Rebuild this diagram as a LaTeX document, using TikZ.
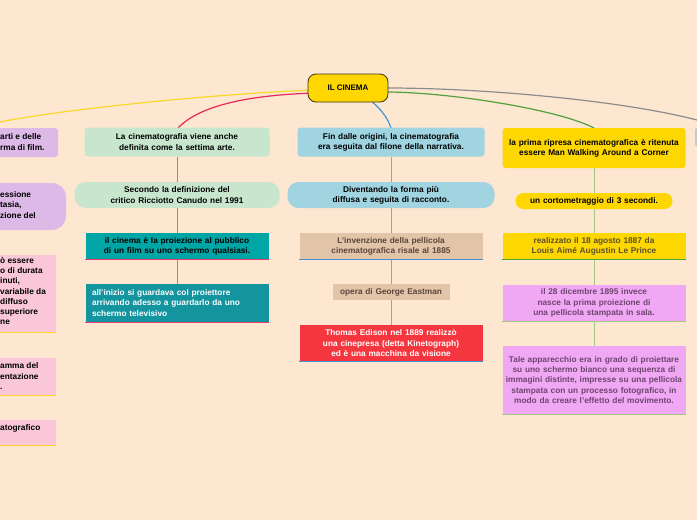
\documentclass[tikz,border=0pt]{standalone}
\usepackage{fontspec}
\setmainfont{Liberation Sans}
\begin{document}
\hyphenpenalty=10000 \exhyphenpenalty=10000 \relax
\begin{tikzpicture}[x=1pt,y=-1pt,
  every node/.style={font=\fontsize{8.3}{10.2}\selectfont\bfseries, inner sep=2pt, align=center},
  bx/.style={draw=none, rounded corners=3pt, minimum width=#1, text width=#1-6pt},
  pill/.style={draw=none, rounded corners=11pt, minimum width=#1, text width=#1-24pt, minimum height=26pt},
  ln/.style={line width=1.2pt}]
\fill[fill={rgb,255:red,253;green,231;blue,209}] (0,0) rectangle (697,520);
\useasboundingbox (0,0) rectangle (697,520);
% main connectors
\draw[ln,draw={rgb,255:red,250;green,215;blue,40}] (312,90) .. controls (200,95) and (60,110) .. (0,122);
\draw[ln,draw={rgb,255:red,230;green,40;blue,90}] (315,93) .. controls (250,95) and (200,105) .. (178,128);
\draw[ln,draw={rgb,255:red,60;green,150;blue,220}] (370,100) .. controls (380,108) and (388,118) .. (391,128);
\draw[ln,draw={rgb,255:red,80;green,160;blue,60}] (385,92) .. controls (450,92) and (560,110) .. (594,128);
\draw[ln,draw={rgb,255:red,140;green,140;blue,140}] (388,88) .. controls (480,88) and (620,100) .. (697,120);
% column lines
\draw[line width=1pt,draw={rgb,255:red,230;green,100;blue,140}] (177,157) -- (177,322);
\draw[line width=1pt,draw={rgb,255:red,160;green,160;blue,170}] (391,157) -- (391,325);
\draw[line width=1pt,draw={rgb,255:red,160;green,200;blue,130}] (594,168) -- (594,346);
% center
\node[draw={rgb,255:red,60;green,50;blue,30},line width=0.8pt,fill={rgb,255:red,255;green,215;blue,0},rounded corners=8pt,minimum width=80pt,minimum height=28pt,font=\fontsize{8}{9}\selectfont\bfseries] (c) at (348,88) {IL CINEMA};
% left clipped column
\fill[fill={rgb,255:red,220;green,185;blue,230},rounded corners=3pt] (-10,128) rectangle (58,157);
\node[anchor=west,align=left] (l1) at (-2,142) {arti e delle\\rma di film.};
\fill[fill={rgb,255:red,220;green,185;blue,230},rounded corners=14pt] (-30,183) rectangle (66,230);
\node[anchor=west,align=left] (l2) at (-2,205) {essione\\tasia,\\zione del};
\fill[fill={rgb,255:red,249;green,199;blue,215}] (0,255) rectangle (56,332);
\draw[line width=0.8pt,draw={rgb,255:red,250;green,215;blue,40}] (0,332) -- (56,332);
\node[anchor=west,align=left] (l3) at (-2,291) {ò essere\\o di durata\\inuti,\\variabile da\\diffuso\\superiore\\ne};
\fill[fill={rgb,255:red,249;green,199;blue,215}] (0,358) rectangle (56,395);
\draw[line width=0.8pt,draw={rgb,255:red,250;green,215;blue,40}] (0,395) -- (56,395);
\node[anchor=west,align=left] (l4) at (-2,376) {amma del\\entazione\\.};
\fill[fill={rgb,255:red,249;green,199;blue,215}] (0,420) rectangle (56,445);
\draw[line width=0.8pt,draw={rgb,255:red,250;green,215;blue,40}] (0,445) -- (56,445);
\node[anchor=west,align=left] (l5) at (-2,428) {atografico};
\fill[fill={rgb,255:red,200;green,200;blue,200},rounded corners=2pt] (695,128) rectangle (705,146);
% column 2
\node[bx=185pt,fill={rgb,255:red,200;green,230;blue,205},minimum height=29pt] (a1) at (177,142) {La cinematografia viene anche definita come la settima arte.};
\node[pill=205pt,fill={rgb,255:red,200;green,230;blue,205}] (a2) at (177,195) {Secondo la definizione del critico Ricciotto Canudo nel 1991};
\node[bx=183pt,rounded corners=0pt,fill={rgb,255:red,0;green,165;blue,165},minimum height=26pt] (a3) at (177,246) {il cinema è la proiezione al pubblico di un film su uno schermo qualsiasi.};
\draw[line width=0.8pt,draw={rgb,255:red,230;green,60;blue,110}] (a3.south west) -- (a3.south east);
\node[bx=183pt,rounded corners=0pt,fill={rgb,255:red,19;green,148;blue,158},minimum height=38pt,text=white,align=left,text width=170pt] (a4) at (177,303) {all'inizio si guardava col proiettore arrivando adesso a guardarlo da uno schermo televisivo};
\draw[line width=0.8pt,draw={rgb,255:red,230;green,60;blue,110}] (a4.south west) -- (a4.south east);
% column 3
\node[bx=187pt,fill={rgb,255:red,160;green,212;blue,225},minimum height=29pt] (b1) at (391,142) {Fin dalle origini, la cinematografia era seguita dal filone della narrativa.};
\node[pill=207pt,fill={rgb,255:red,160;green,212;blue,225},text width=160pt] (b2) at (391,195) {Diventando la forma più diffusa e seguita di racconto.};
\node[bx=183pt,rounded corners=0pt,fill={rgb,255:red,226;green,196;blue,168},minimum height=27pt,text={rgb,255:red,90;green,70;blue,60},text width=160pt] (b3) at (391,246) {L'invenzione della pellicola cinematografica risale al 1885};
\draw[line width=0.8pt,draw={rgb,255:red,60;green,150;blue,220}] (b3.south west) -- (b3.south east);
\node[bx=117pt,rounded corners=0pt,fill={rgb,255:red,226;green,196;blue,168},minimum height=16pt,text={rgb,255:red,90;green,70;blue,60}] (b4) at (391,292) {opera di George Eastman};
\node[bx=183pt,rounded corners=0pt,fill={rgb,255:red,245;green,54;blue,63},minimum height=37pt,text=white,text width=165pt] (b5) at (391,343) {Thomas Edison nel 1889 realizzò una cinepresa (detta Kinetograph) ed è una macchina da visione};
\draw[line width=0.8pt,draw={rgb,255:red,60;green,150;blue,220}] (b5.south west) -- (b5.south east);
% column 4
\node[bx=183pt,fill={rgb,255:red,255;green,215;blue,0},minimum height=40pt] (d1) at (594,148) {la prima ripresa cinematografica è ritenuta essere Man Walking Around a Corner};
\node[bx=157pt,rounded corners=8pt,fill={rgb,255:red,255;green,215;blue,0},minimum height=16pt] (d2) at (594,201) {un cortometraggio di 3 secondi.};
\node[bx=183pt,rounded corners=0pt,fill={rgb,255:red,255;green,215;blue,0},minimum height=27pt,text={rgb,255:red,90;green,80;blue,40}] (d3) at (594,246) {realizzato il 18 agosto 1887 da Louis Aimé Augustin Le Prince};
\draw[line width=0.8pt,draw={rgb,255:red,80;green,160;blue,60}] (d3.south west) -- (d3.south east);
\node[bx=183pt,rounded corners=0pt,fill={rgb,255:red,240;green,168;blue,245},minimum height=37pt,text={rgb,255:red,110;green,70;blue,110},text width=160pt] (d4) at (594,303) {il 28 dicembre 1895 invece nasce la prima proiezione di una pellicola stampata in sala.};
\draw[line width=0.8pt,draw={rgb,255:red,160;green,200;blue,130}] (d4.south west) -- (d4.south east);
\node[bx=183pt,rounded corners=0pt,fill={rgb,255:red,240;green,168;blue,245},minimum height=69pt,text={rgb,255:red,110;green,70;blue,110}] (d5) at (594,380) {Tale apparecchio era in grado di proiettare su uno schermo bianco una sequenza di immagini distinte, impresse su una pellicola stampata con un processo fotografico, in modo da creare l'effetto del movimento.};
\draw[line width=0.8pt,draw={rgb,255:red,160;green,200;blue,130}] (d5.south west) -- (d5.south east);
\end{tikzpicture}
\end{document}
